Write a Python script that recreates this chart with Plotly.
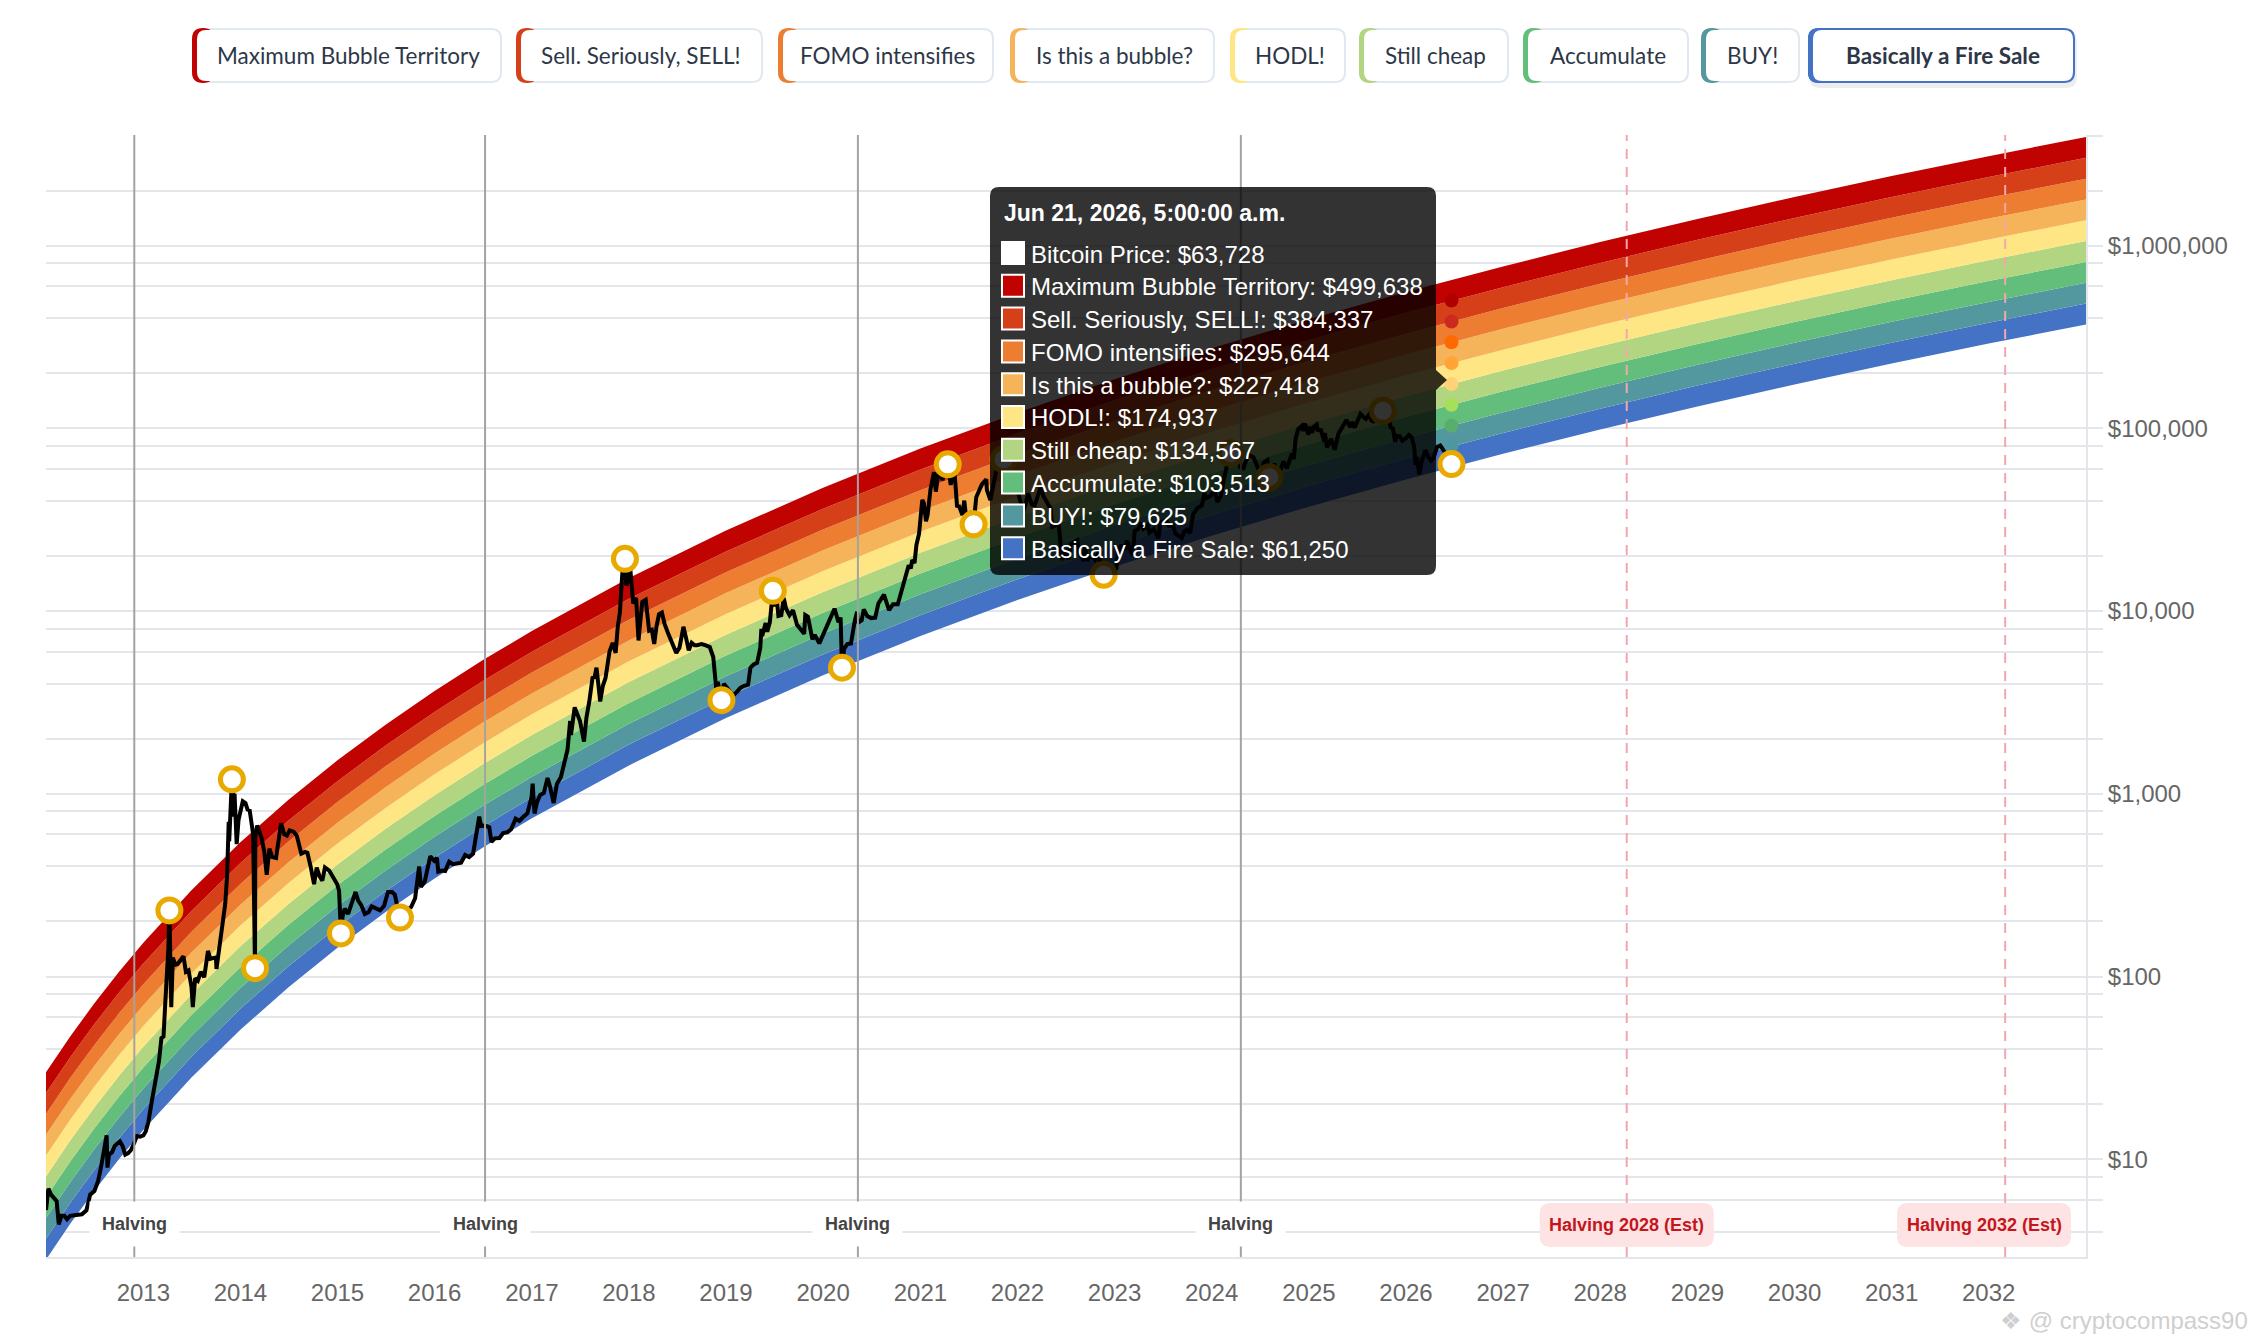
import plotly.graph_objects as go
from datetime import date

# ---------------- data ----------------
band_names = ["Maximum Bubble Territory", "Sell. Seriously, SELL!", "FOMO intensifies",
              "Is this a bubble?", "HODL!", "Still cheap", "Accumulate", "BUY!",
              "Basically a Fire Sale"]
band_colors = ["#c00200", "#d64018", "#ed7d31", "#f6b45a", "#fee685",
               "#b1d580", "#63be7b", "#54989f", "#4472c4"]
hover_dot_colors = ["#b00000", "#cc2a1e", "#ff6a00", "#ffa437", "#ffd27a",
                    "#a6e05a", "#5aae6c", "#4e96a0", "#4472c4"]

# lower edge of each band on the hovered day (tooltip values)
band_edges_hover = [499638, 384337, 295644, 227418, 174937, 134567, 103513, 79625, 61250]
band_top_hover = 649530            # upper edge of the top band on that day
hover_date = "2026-06-21"
hover_title = "Jun 21, 2026, 5:00:00 a.m."

# lower edge of "Basically a Fire Sale" band
rainbow_dates = ["2012-01-01", "2012-04-01", "2012-07-01", "2012-10-01", "2013-01-01",
                 "2013-07-01", "2014-01-01", "2014-07-01", "2015-01-01", "2015-07-01",
                 "2016-01-01", "2016-07-01", "2017-01-01", "2018-01-01", "2019-01-01",
                 "2020-01-01", "2021-01-01", "2022-01-01", "2023-01-01", "2024-01-01",
                 "2025-01-01", "2026-01-01", "2027-01-01", "2028-01-01", "2029-01-01",
                 "2030-01-01", "2031-01-01", "2032-01-01", "2033-01-01"]
rainbow_floor = [2.82, 4.43, 6.73, 9.99, 14.44, 28.0, 51.2, 87.4, 143.7, 225.2, 344, 508, 734,
                 1430, 2598, 4453, 7302, 11486, 17474, 25823, 37246, 52493, 72528, 98537,
                 131800, 173700, 226200, 290900, 370300]

# Bitcoin price (USD), per year: (month-day, price)
btc_2012 = [("01-01", 5.27), ("01-10", 6.9), ("01-20", 6.4), ("02-01", 6.1), ("02-10", 5.9),
            ("02-18", 4.4), ("02-28", 4.9), ("03-10", 4.9), ("03-20", 4.7), ("04-01", 4.9),
            ("04-15", 4.95), ("05-01", 5.0), ("05-15", 5.0), ("06-01", 5.25), ("06-15", 6.4),
            ("07-01", 6.7), ("07-15", 7.6), ("07-25", 8.9), ("08-05", 11.0), ("08-16", 13.5),
            ("08-19", 9.0), ("08-25", 10.6), ("09-05", 10.9), ("09-15", 11.8), ("09-25", 12.2),
            ("10-05", 12.5), ("10-15", 11.8), ("10-25", 10.6), ("11-05", 10.8), ("11-15", 11.2),
            ("11-28", 12.3), ("12-08", 13.4), ("12-20", 13.3)]
btc_2013 = [("01-01", 13.5), ("01-10", 14.2), ("01-20", 16.0), ("02-01", 20.4), ("02-10", 24.0),
            ("02-20", 29.8), ("03-01", 34.5), ("03-10", 46.0), ("03-18", 47.0), ("03-25", 74),
            ("04-01", 104), ("04-05", 142), ("04-09", 230), ("04-12", 93), ("04-16", 68),
            ("04-22", 127), ("05-01", 116), ("05-10", 117), ("05-20", 122), ("06-01", 129),
            ("06-10", 106), ("06-20", 108), ("07-01", 88), ("07-06", 68), ("07-15", 98),
            ("07-25", 95), ("08-05", 106), ("08-18", 99), ("09-01", 138), ("09-10", 125),
            ("09-20", 126), ("10-01", 127), ("10-03", 110), ("10-15", 150), ("10-25", 190),
            ("11-05", 250), ("11-12", 355), ("11-18", 703), ("11-20", 550), ("11-25", 800),
            ("11-30", 1200), ("12-04", 1150), ("12-07", 750), ("12-10", 1000), ("12-18", 530),
            ("12-25", 720)]
btc_2014 = [("01-01", 810), ("01-10", 910), ("01-20", 890), ("01-28", 820), ("02-05", 810),
            ("02-12", 650), ("02-18", 600), ("02-24", 135), ("02-25", 111), ("02-26", 580),
            ("03-05", 670), ("03-12", 630), ("03-22", 570), ("04-01", 480), ("04-10", 360),
            ("04-20", 500), ("05-01", 450), ("05-15", 445), ("05-25", 580), ("06-03", 690),
            ("06-15", 600), ("06-25", 590), ("07-05", 630), ("07-20", 620), ("08-01", 590),
            ("08-18", 470), ("09-01", 480), ("09-10", 475), ("09-22", 400), ("10-05", 320),
            ("10-15", 395), ("10-25", 355), ("11-05", 335), ("11-15", 395), ("12-01", 380),
            ("12-15", 350), ("12-31", 320)]
btc_2015 = [("01-07", 295), ("01-14", 172), ("01-20", 212), ("01-28", 235), ("02-10", 220),
            ("02-20", 245), ("03-10", 290), ("03-20", 260), ("04-01", 245), ("04-14", 220),
            ("04-28", 225), ("05-10", 242), ("05-25", 237), ("06-10", 230), ("06-25", 243),
            ("07-10", 290), ("07-25", 290), ("08-05", 280), ("08-18", 225), ("08-24", 210),
            ("09-05", 235), ("09-20", 231), ("10-05", 240), ("10-20", 268), ("11-04", 400),
            ("11-11", 310), ("11-25", 330), ("12-05", 390), ("12-16", 455), ("12-31", 430)]
btc_2016 = [("01-10", 445), ("01-15", 375), ("01-28", 380), ("02-10", 378), ("02-25", 425),
            ("03-10", 412), ("03-25", 415), ("04-10", 420), ("04-25", 462), ("05-10", 450),
            ("05-25", 470), ("06-05", 575), ("06-17", 750), ("06-24", 665), ("07-05", 670),
            ("07-15", 665), ("07-25", 655), ("08-02", 545), ("08-15", 570), ("09-01", 572),
            ("09-15", 610), ("10-01", 615), ("10-15", 640), ("11-01", 730), ("11-15", 710),
            ("12-01", 750), ("12-15", 780), ("12-31", 960)]
btc_2017 = [("01-04", 1135), ("01-11", 780), ("01-20", 895), ("02-01", 985), ("02-15", 1010),
            ("03-01", 1220), ("03-10", 1100), ("03-24", 890), ("04-05", 1130), ("04-20", 1230),
            ("05-05", 1550), ("05-15", 1740), ("05-25", 2500), ("05-28", 2100), ("06-11", 2970),
            ("06-20", 2700), ("07-01", 2500), ("07-16", 1930), ("07-25", 2600), ("08-05", 3200),
            ("08-17", 4300), ("08-25", 4350), ("09-01", 4900), ("09-15", 3200), ("09-25", 3900),
            ("10-05", 4300), ("10-20", 6000), ("11-01", 6700), ("11-12", 5900), ("11-20", 8200),
            ("11-28", 9800), ("12-07", 16000), ("12-17", 19300), ("12-22", 13800), ("12-28", 14600)]
btc_2018 = [("01-06", 17100), ("01-12", 13500), ("01-17", 11000), ("01-28", 11800), ("02-06", 6900),
            ("02-12", 8500), ("02-20", 11200), ("03-05", 11500), ("03-18", 7800), ("03-28", 7900),
            ("04-06", 6600), ("04-15", 8300), ("04-24", 9600), ("05-05", 9800), ("05-15", 8500),
            ("05-29", 7500), ("06-10", 6800), ("06-28", 5900), ("07-10", 6300), ("07-25", 8200),
            ("08-05", 7000), ("08-14", 6100), ("08-25", 6700), ("09-05", 6500), ("09-15", 6500),
            ("10-01", 6600), ("10-15", 6500), ("11-01", 6350), ("11-14", 5600), ("11-20", 4500),
            ("11-25", 3800), ("12-01", 4100), ("12-15", 3250), ("12-24", 4000)]
btc_2019 = [("01-05", 3800), ("01-15", 3600), ("01-28", 3450), ("02-10", 3600), ("02-24", 3800),
            ("03-10", 3900), ("03-25", 3950), ("04-03", 4900), ("04-15", 5100), ("04-28", 5200),
            ("05-10", 6300), ("05-14", 8000), ("05-17", 7300), ("05-30", 8600), ("06-05", 7700),
            ("06-15", 8700), ("06-26", 12900), ("07-02", 10600), ("07-10", 12100), ("07-17", 9400),
            ("07-28", 9500), ("08-06", 11800), ("08-15", 10300), ("08-28", 9500), ("09-10", 10100),
            ("09-25", 8400), ("10-05", 8100), ("10-22", 7500), ("10-26", 9500), ("11-05", 9300),
            ("11-22", 7000), ("12-01", 7400), ("12-18", 6650), ("12-30", 7300)]
btc_2020 = [("01-10", 8000), ("01-19", 8700), ("02-01", 9400), ("02-13", 10300), ("02-28", 8700),
            ("03-07", 9200), ("03-12", 4900), ("03-20", 6200), ("04-01", 6600), ("04-15", 6650),
            ("04-29", 8800), ("05-08", 9900), ("05-11", 8600), ("05-25", 8900), ("06-02", 10200),
            ("06-15", 9400), ("06-30", 9150), ("07-15", 9200), ("07-27", 11000), ("08-10", 11900),
            ("08-17", 12300), ("09-05", 10100), ("09-20", 10900), ("10-08", 10900), ("10-21", 12800),
            ("11-05", 15600), ("11-18", 17800), ("11-26", 17100), ("12-01", 19000), ("12-10", 18300),
            ("12-17", 23000), ("12-27", 26500)]
btc_2021 = [("01-02", 32000), ("01-08", 40600), ("01-14", 39000), ("01-22", 31000), ("01-28", 33500),
            ("02-08", 46400), ("02-21", 57500), ("02-28", 45000), ("03-13", 61000), ("03-25", 52000),
            ("04-05", 58800), ("04-14", 63500), ("04-25", 49000), ("05-03", 57000), ("05-10", 56000),
            ("05-19", 37000), ("05-25", 38000), ("06-08", 33500), ("06-15", 40200), ("06-22", 32500),
            ("07-05", 34000), ("07-20", 29800), ("07-30", 42000), ("08-14", 47000), ("08-20", 49300),
            ("09-06", 52600), ("09-08", 46000), ("09-21", 40500), ("10-01", 48000), ("10-06", 55300),
            ("10-20", 66000), ("10-28", 60500), ("11-10", 67600), ("11-18", 56900), ("11-26", 54000),
            ("12-04", 49000), ("12-15", 48900), ("12-27", 50700)]
btc_2022 = [("01-05", 43500), ("01-22", 35000), ("02-01", 38500), ("02-10", 44000), ("02-24", 38300),
            ("03-07", 38000), ("03-28", 47100), ("04-10", 42200), ("04-26", 38100), ("05-05", 36500),
            ("05-12", 28900), ("05-25", 29500), ("06-05", 29900), ("06-13", 22500), ("06-18", 19000),
            ("06-26", 21000), ("07-12", 19300), ("07-20", 23200), ("07-30", 23800), ("08-14", 24400),
            ("08-20", 21100), ("09-06", 18800), ("09-12", 22400), ("09-20", 18900), ("10-05", 20300),
            ("10-20", 19100), ("11-05", 21300), ("11-09", 15900), ("11-21", 15800), ("12-05", 17100),
            ("12-15", 17400), ("12-30", 16550)]
btc_2023 = [("01-08", 17100), ("01-15", 20900), ("01-25", 23000), ("02-10", 21600), ("02-16", 24300),
            ("03-10", 20200), ("03-18", 27400), ("03-30", 28000), ("04-13", 30400), ("04-20", 28200),
            ("05-05", 29500), ("05-12", 26800), ("05-28", 28000), ("06-15", 25100), ("06-23", 30600),
            ("07-13", 31400), ("07-25", 29200), ("08-10", 29400), ("08-17", 26600), ("09-11", 25100),
            ("09-20", 27200), ("10-01", 27900), ("10-12", 26800), ("10-24", 33900), ("11-09", 36700),
            ("11-25", 37700), ("12-05", 44000), ("12-12", 41500), ("12-28", 42600)]
btc_2024 = [("01-11", 46400), ("01-23", 39500), ("02-05", 42700), ("02-15", 51900), ("02-28", 62500),
            ("03-05", 63800), ("03-13", 73100), ("03-19", 62000), ("03-27", 69500), ("04-08", 71600),
            ("04-17", 61300), ("04-30", 60600), ("05-05", 64000), ("05-20", 71400), ("06-07", 69300),
            ("06-24", 60200), ("07-05", 56700), ("07-15", 64800), ("07-29", 66800), ("08-05", 54000),
            ("08-14", 58700), ("08-24", 64100), ("09-06", 53900), ("09-15", 59200), ("09-27", 65800),
            ("10-10", 60300), ("10-29", 72700), ("11-05", 67800), ("11-12", 88000), ("11-22", 98900),
            ("12-05", 103000), ("12-10", 96700), ("12-17", 106100), ("12-30", 92400)]
btc_2025 = [("01-06", 102000), ("01-13", 94500), ("01-20", 102000), ("01-30", 104700), ("02-03", 97900),
            ("02-15", 97600), ("02-28", 84400), ("03-02", 94200), ("03-10", 78600), ("03-25", 87500),
            ("04-08", 76300), ("04-22", 93400), ("05-08", 103000), ("05-22", 111000), ("06-05", 101500),
            ("06-12", 108000), ("06-22", 101000), ("07-03", 109600), ("07-14", 119800), ("07-25", 115400),
            ("08-03", 112500), ("08-14", 118400), ("08-25", 110100), ("09-01", 109200), ("09-18", 117100),
            ("09-25", 109000), ("10-06", 124700), ("10-10", 113000), ("10-17", 106500), ("10-27", 115000),
            ("11-04", 101500), ("11-13", 99700), ("11-21", 84500), ("11-28", 91000), ("12-08", 90500),
            ("12-18", 85500), ("12-31", 88000)]
btc_2026 = [("01-12", 92000), ("01-22", 89500), ("02-01", 78500), ("02-06", 63000), ("02-10", 69500),
            ("02-20", 56000), ("03-01", 66000), ("03-15", 76000), ("03-25", 70000), ("04-05", 66500),
            ("04-15", 69000), ("04-28", 79000), ("05-10", 80500), ("05-22", 76000), ("06-05", 72000),
            ("06-14", 68000), ("06-21", 63728)]

# cycle highs / lows marked with rings
cycle_dates = ["2013-04-09", "2013-11-30", "2014-02-25", "2015-01-14", "2015-08-24", "2017-12-17",
               "2018-12-15", "2019-06-26", "2020-03-12", "2021-04-14", "2021-07-20", "2021-11-10",
               "2022-11-21", "2024-03-13", "2024-08-05", "2025-10-06", "2026-06-21"]

halving_dates = ["2012-11-28", "2016-07-09", "2020-05-11", "2024-04-20"]
halving_est_dates = ["2028-04-10", "2032-03-03"]
halving_est_labels = ["Halving 2028 (Est)", "Halving 2032 (Est)"]

year_ticks = list(range(2013, 2033))
y_grid_vals = [4, 6, 8, 10, 20, 40, 60, 80, 100, 200, 400, 600, 800, 1000, 2000, 4000, 6000, 8000,
               10000, 20000, 40000, 60000, 80000, 100000, 200000, 400000, 600000, 800000,
               1000000, 2000000, 4000000]
y_label_vals = [10, 100, 1000, 10000, 100000, 1000000]

# ---------------- layout helpers ----------------
W, H = 2252, 1344
ML, MR, MT, MB = 46, 166, 135, 87
PW, PH = W - ML - MR, H - MT - MB
X0, X1 = date(2012, 1, 1), date(2033, 1, 1)
GRID = "#e3e6ea"
FONT = "Liberation Sans"


def fx(px):
    return (px - ML) / PW


def fy(py):
    return 1 - (py - MT) / PH


def date_px(s):
    d = date.fromisoformat(s)
    return ML + (d - X0).days / (X1 - X0).days * PW


def rrect(x0, y0, x1, y1, r):
    def P(x, y):
        return f"{fx(x):.6f},{fy(y):.6f}"
    return (f"M{P(x0 + r, y0)} L{P(x1 - r, y0)} Q{P(x1, y0)} {P(x1, y0 + r)} "
            f"L{P(x1, y1 - r)} Q{P(x1, y1)} {P(x1 - r, y1)} L{P(x0 + r, y1)} "
            f"Q{P(x0, y1)} {P(x0, y1 - r)} L{P(x0, y0 + r)} Q{P(x0, y0)} {P(x0 + r, y0)} Z")


def pshape(path, fill, layer="above"):
    return dict(type="path", path=path, xref="paper", yref="paper", fillcolor=fill,
                line=dict(width=0), layer=layer)


def ptext(px, py, text, font, xanchor="center", **kw):
    return dict(x=fx(px), y=fy(py), xref="paper", yref="paper", text=text, showarrow=False,
                xanchor=xanchor, yanchor="middle", font=font, **kw)


# ---------------- assemble price series ----------------
btc_years = [(2012, btc_2012), (2013, btc_2013), (2014, btc_2014), (2015, btc_2015),
             (2016, btc_2016), (2017, btc_2017), (2018, btc_2018), (2019, btc_2019),
             (2020, btc_2020), (2021, btc_2021), (2022, btc_2022), (2023, btc_2023),
             (2024, btc_2024), (2025, btc_2025), (2026, btc_2026)]
price_x, price_y = [], []
for yr, rows in btc_years:
    for md, v in rows:
        price_x.append(f"{yr}-{md}")
        price_y.append(v)
price_lookup = dict(zip(price_x, price_y))
cycle_vals = [price_lookup[d] for d in cycle_dates]
hover_price = price_lookup[hover_date]

fig = go.Figure()

# rainbow bands (bottom edge first)
edges_bt = band_edges_hover[::-1] + [band_top_hover]
colors_bt = band_colors[::-1]
base = band_edges_hover[-1]
for i, e in enumerate(edges_bt):
    ys = [f * e / base for f in rainbow_floor]
    fig.add_trace(go.Scatter(
        x=rainbow_dates, y=ys, mode="lines",
        line=dict(width=0, color=colors_bt[i - 1] if i else "#4472c4"),
        fill="tonexty" if i else None, fillcolor=colors_bt[i - 1] if i else None,
        hoverinfo="skip", showlegend=False))

# price line
fig.add_trace(go.Scatter(x=price_x, y=price_y, mode="lines",
                         line=dict(color="#000000", width=4),
                         hoverinfo="skip", showlegend=False))

# hover dots on the bands
fig.add_trace(go.Scatter(x=[hover_date] * len(band_edges_hover), y=band_edges_hover, mode="markers",
                         marker=dict(size=14, color=hover_dot_colors, line=dict(width=0)),
                         hoverinfo="skip", showlegend=False))

# cycle rings
fig.add_trace(go.Scatter(x=cycle_dates, y=cycle_vals, mode="markers",
                         marker=dict(size=23, color="white", line=dict(width=5, color="#e8a900")),
                         hoverinfo="skip", showlegend=False))

shapes, annos = [], []

# halving lines
for d in halving_dates:
    shapes.append(dict(type="line", xref="x", yref="paper", x0=d, x1=d, y0=0, y1=1,
                       line=dict(color="#a3a3a3", width=2), layer="above"))
    annos.append(dict(x=d, xref="x", y=fy(1224), yref="paper", text="<b>Halving</b>",
                      xanchor="center", yanchor="middle",
                      showarrow=False, bgcolor="white", borderpad=12,
                      font=dict(family=FONT, size=18, color="#444444")))
for d, lab in zip(halving_est_dates, halving_est_labels):
    shapes.append(dict(type="line", xref="x", yref="paper", x0=d, x1=d, y0=0, y1=1,
                       line=dict(color="#f4a6aa", width=2, dash="10px,8px"), layer="above"))
    cx = min(date_px(d), ML + PW - 14 - 88)
    shapes.append(pshape(rrect(cx - 87, 1203, cx + 87, 1247, 11), "#fde3e3"))
    annos.append(ptext(cx, 1225, f"<b>{lab}</b>", dict(family=FONT, size=18, color="#c4161c")))

# legend buttons
btn_x = [(192, 502), (516, 763), (778, 994), (1010, 1215), (1230, 1346),
         (1359, 1509), (1523, 1689), (1701, 1800), (1808, 2075)]
by0, by1 = 28, 83
for k, ((bx0, bx1), name, col) in enumerate(zip(btn_x, band_names, band_colors)):
    active = k == len(band_names) - 1
    if active:
        shapes.append(pshape(rrect(bx0 + 1, by0 + 3, bx1 + 2, by1 + 5, 11), "rgba(0,0,0,0.07)"))
    shapes.append(pshape(rrect(bx0, by0, bx1, by1, 11), "#4472c4" if active else "#e2e8f0"))
    shapes.append(pshape(rrect(bx0, by0, bx0 + 22, by1, 11), col))
    shapes.append(pshape(rrect(bx0 + 5, by0 + 2, bx1 - 2, by1 - 2, 9), "white"))
    annos.append(ptext((bx0 + 5 + bx1 - 2) / 2, (by0 + by1) / 2,
                       f"<b>{name}</b>" if active else name,
                       dict(family="Lato", size=22.5, color="#2d3748")))

# tooltip
tb_x0, tb_x1, tb_y0, tb_y1 = 990, 1436, 187, 575
shapes.append(pshape(rrect(tb_x0, tb_y0, tb_x1, tb_y1, 9), "rgba(0,0,0,0.8)"))
shapes.append(pshape(f"M{fx(tb_x1):.6f},{fy(370):.6f} L{fx(tb_x1 + 11):.6f},{fy(380):.6f} "
                     f"L{fx(tb_x1):.6f},{fy(390):.6f} Z", "rgba(0,0,0,0.8)"))
annos.append(ptext(1002, 213, f"<b>{hover_title}</b>", dict(family=FONT, size=23, color="white"),
                   xanchor="left"))
rows = [("Bitcoin Price", hover_price, "#ffffff")] + list(zip(band_names, band_edges_hover, band_colors))
for i, (nm, v, col) in enumerate(rows):
    cy = 253 + 32.8 * i
    shapes.append(dict(type="rect", xref="paper", yref="paper", x0=fx(1002), x1=fx(1024),
                       y0=fy(cy - 11), y1=fy(cy + 11), fillcolor=col,
                       line=dict(color="white", width=2), layer="above"))
    annos.append(ptext(1029, cy + 1, f"{nm}: ${v:,.0f}", dict(family=FONT, size=24, color="white"),
                       xanchor="left"))

# watermark
annos.append(ptext(2250, 1320, "❖ @ cryptocompass90", dict(family=FONT, size=24, color="#cfcfcf"),
                   xanchor="right"))

fig.update_layout(
    width=W, height=H,
    margin=dict(l=ML, r=MR, t=MT, b=MB, pad=0, autoexpand=False),
    paper_bgcolor="white", plot_bgcolor="white",
    font=dict(family=FONT, size=24, color="#666666"),
    showlegend=False,
    shapes=shapes, annotations=annos,
    xaxis=dict(type="date", range=["2012-01-01", "2033-01-01"],
               tickvals=[f"{y}-01-01" for y in year_ticks], ticktext=[str(y) for y in year_ticks],
               showgrid=False, zeroline=False, showline=True, linecolor=GRID, linewidth=2,
               ticks="outside", ticklen=13, tickcolor="rgba(0,0,0,0)",
               tickfont=dict(family=FONT, size=24, color="#666666")),
    yaxis=dict(type="log", range=[0.465, 6.605], side="right",
               tickvals=y_grid_vals,
               ticktext=[f"${v:,.0f}" if v in y_label_vals else "" for v in y_grid_vals],
               showgrid=True, gridcolor=GRID, gridwidth=2, zeroline=False,
               showline=True, linecolor=GRID, linewidth=2,
               ticks="outside", ticklen=15, tickwidth=2, tickcolor=GRID,
               tickfont=dict(family=FONT, size=24, color="#666666")),
)

fig.write_html("out.html", config={"displayModeBar": False},
               post_script="document.body.style.margin='0';document.body.style.overflow='hidden';")
